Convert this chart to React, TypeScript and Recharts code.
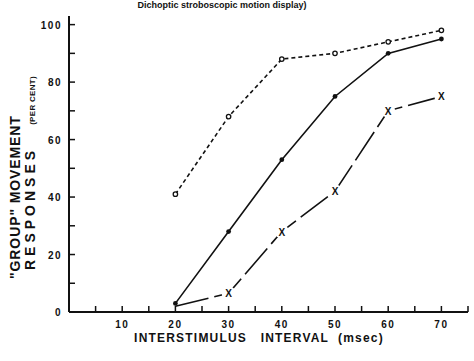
import { LineChart, Line, XAxis, YAxis } from 'recharts';

const intervals = [20, 30, 40, 50, 60, 70];
const openCircles = [41, 68, 88, 90, 94, 98];
const filledDots = [3, 28, 53, 75, 90, 95];
const crosses = [2, 6.5, 28, 42, 70, 75];

const xTicks = [5, 10, 15, 20, 25, 30, 35, 40, 45, 50, 55, 60, 65, 70, 75];
const yTicks = [0, 10, 20, 30, 40, 50, 60, 70, 80, 90, 100];

const data = intervals.map((ms, i) => ({
  ms,
  open: openCircles[i],
  filled: filledDots[i],
  cross: crosses[i],
}));

const INK = '#111';
const FONT = '"Liberation Sans", Arial, sans-serif';

const XTick = (props: any) => {
  const { x, y, payload } = props;
  return (
    <g>
      <line x1={x} x2={x} y1={y} y2={y - 6} stroke={INK} strokeWidth={1.5} />
      {payload.value % 10 === 0 && (
        <text x={x} y={y + 16} textAnchor="middle" fontSize={10} fontWeight="bold"
          fontFamily={FONT} fill={INK} letterSpacing={1.5}>
          {payload.value}
        </text>
      )}
    </g>
  );
};

const YTick = (props: any) => {
  const { x, y, payload } = props;
  return (
    <g>
      <line x1={x} x2={x + 6} y1={y} y2={y} stroke={INK} strokeWidth={1.5} />
      {payload.value % 20 === 0 && (
        <text x={x - 7} y={y + 4} textAnchor="end" fontSize={10} fontWeight="bold"
          fontFamily={FONT} fill={INK} letterSpacing={1.5}>
          {payload.value}
        </text>
      )}
    </g>
  );
};

const OpenDot = (props: any) => {
  const { cx, cy } = props;
  return <circle cx={cx} cy={cy} r={2.2} fill="#fff" stroke={INK} strokeWidth={1.3} />;
};

const FilledDot = (props: any) => {
  const { cx, cy } = props;
  return <circle cx={cx} cy={cy} r={2.4} fill={INK} stroke="none" />;
};

// X markers sit on a white patch so the line shows a gap round them
const CrossDot = (props: any) => {
  const { cx, cy, index } = props;
  if (index === 0) return <g />;
  return (
    <g>
      <circle cx={cx} cy={cy} r={7} fill="#fff" />
      <text x={cx} y={cy + 4} textAnchor="middle" fontSize={10} fontWeight="bold"
        fontFamily={FONT} fill={INK}>
        X
      </text>
    </g>
  );
};

export default function App() {
  return (
    <div style={{ position: 'absolute', left: 0, top: 0, width: 474, height: 361, background: '#fff' }}>
      <LineChart width={474} height={361} data={data}
        margin={{ top: 16, right: 6, left: 0, bottom: 0 }}>
        <XAxis dataKey="ms" type="number" domain={[0, 75]} ticks={xTicks}
          height={49} tickSize={0} tickMargin={0} tickLine={false} interval={0}
          axisLine={{ stroke: INK, strokeWidth: 2 }} tick={<XTick />} />
        <YAxis type="number" domain={[0, 103]} ticks={yTicks} width={69}
          tickSize={0} tickMargin={0} tickLine={false} interval={0}
          axisLine={{ stroke: INK, strokeWidth: 2 }} tick={<YTick />} />
        <Line dataKey="cross" stroke={INK} strokeWidth={1.6} strokeDasharray="34 6"
          dot={<CrossDot />} activeDot={false} isAnimationActive={false} type="linear" />
        <Line dataKey="filled" stroke={INK} strokeWidth={1.6}
          dot={<FilledDot />} activeDot={false} isAnimationActive={false} type="linear" />
        <Line dataKey="open" stroke={INK} strokeWidth={1.6} strokeDasharray="4 3"
          dot={<OpenDot />} activeDot={false} isAnimationActive={false} type="linear" />
      </LineChart>
      <svg width={474} height={361} style={{ position: 'absolute', left: 0, top: 0, pointerEvents: 'none' }}>
        <text x={222} y={8} textAnchor="middle" fontSize={9} fontWeight="bold"
          fontFamily={FONT} fill={INK}>
          Dichoptic stroboscopic motion display)
        </text>
        <text transform="translate(20, 279) rotate(-90)" textAnchor="start" fontSize={14}
          fontWeight="bold" fontFamily={FONT} fill={INK} letterSpacing={0.9}>
          "GROUP" MOVEMENT
        </text>
        <text transform="translate(35, 270) rotate(-90)" textAnchor="start" fontSize={14}
          fontWeight="bold" fontFamily={FONT} fill={INK} letterSpacing={4}>
          <tspan>RESPONSES</tspan>
          <tspan fontSize={8} dx={22} letterSpacing={0.3}>(PER CENT)</tspan>
        </text>
        <text x={259} y={342} textAnchor="middle" fontSize={12} fontWeight="bold"
          fontFamily={FONT} fill={INK} letterSpacing={1.2} style={{ whiteSpace: 'pre' }}>
          {'INTERSTIMULUS   INTERVAL  (msec)'}
        </text>
      </svg>
    </div>
  );
}
